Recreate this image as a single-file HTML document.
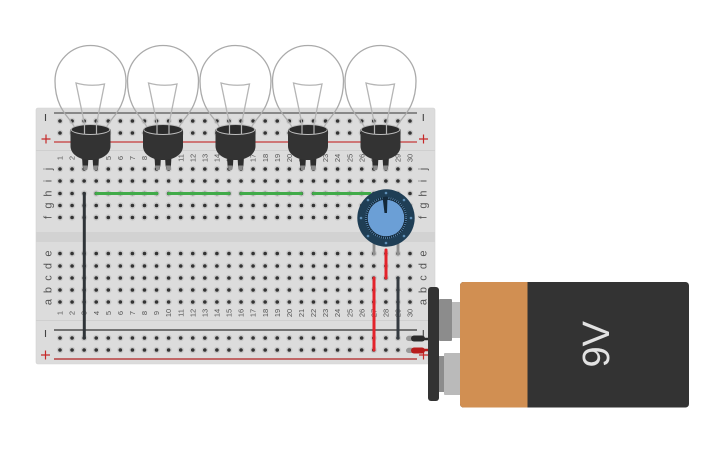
<!DOCTYPE html>
<html><head><meta charset="utf-8"><style>
html,body{margin:0;padding:0;background:#fff;width:725px;height:453px;overflow:hidden}
svg{display:block}
.n{font:7.5px "Liberation Sans",sans-serif;fill:#555;text-anchor:middle}
.l{font:11px "Liberation Sans",sans-serif;fill:#555;text-anchor:middle}
</style></head><body>
<svg width="725" height="453" viewBox="0 0 725 453" xmlns="http://www.w3.org/2000/svg">
<defs>
<g id="hole"><circle r="3.2" fill="#c9c9c9"/><circle r="1.8" fill="#333"/></g>
<g id="row">
<use href="#hole" x="60"/><use href="#hole" x="72.07"/><use href="#hole" x="84.14"/><use href="#hole" x="96.21"/><use href="#hole" x="108.28"/><use href="#hole" x="120.34"/><use href="#hole" x="132.41"/><use href="#hole" x="144.48"/><use href="#hole" x="156.55"/><use href="#hole" x="168.62"/><use href="#hole" x="180.69"/><use href="#hole" x="192.76"/><use href="#hole" x="204.83"/><use href="#hole" x="216.9"/><use href="#hole" x="228.97"/><use href="#hole" x="241.03"/><use href="#hole" x="253.1"/><use href="#hole" x="265.17"/><use href="#hole" x="277.24"/><use href="#hole" x="289.31"/><use href="#hole" x="301.38"/><use href="#hole" x="313.45"/><use href="#hole" x="325.52"/><use href="#hole" x="337.59"/><use href="#hole" x="349.66"/><use href="#hole" x="361.72"/><use href="#hole" x="373.79"/><use href="#hole" x="385.86"/><use href="#hole" x="397.93"/><use href="#hole" x="410"/>
</g>
<g id="bulb">
<path d="M-18.5 42 C-22 36 -35.5 26 -35.5 0 A35.2 35.2 0 0 1 35.5 0 C35.5 26 22 36 18.5 42" transform="translate(0,81)" fill="none" stroke="#aaa" stroke-width="1.3"/>
<path d="M-6 124 L-14.500 83 Q0 87 14 84 L6 124 M-6 124 V135 M6 124 V135" fill="none" stroke="#b5b5b5" stroke-width="1.3"/>
<path d="M-8.500 156 L-8 165 L-7 170 H-3.500 L-2.500 165 L-2 156 Z M8.500 156 L8 165 L7 170 H3.500 L2.500 165 L2 156 Z" fill="#2e2e2e"/>
<path d="M-7.500 165.500 L-7 170 H-3.500 L-3 165.500 Z M7.500 165.500 L7 170 H3.500 L3 165.500 Z" fill="#8a8a8a"/>
<path d="M-20 129 V146 C-20 155 -10 160 0 160 C10 160 20 155 20 146 V129 Z" fill="#333"/>
<ellipse cx="0" cy="129.500" rx="19.300" ry="5" fill="#2b2b2b" stroke="#bdbdbd" stroke-width="1"/>
<path d="M-6 125 V134.300 M6 125 V134.300 M-18.500 123 L-16 127 M18.500 123 L16 127" stroke="#b5b5b5" stroke-width="1.200" fill="none"/>
</g>
</defs>

<!-- breadboard -->
<rect x="36" y="108" width="399" height="256" rx="2" fill="#dcdcdc" stroke="#d2d2d2" stroke-width="0.6"/>
<rect x="36" y="232" width="399" height="10" fill="#d2d2d2"/>
<path d="M36 150.500H435M36 320.500H435" stroke="#cfcfcf" stroke-width="1"/>
<path d="M54 113H417" stroke="#555" stroke-width="1.300"/>
<path d="M54 142H417" stroke="#c63a3a" stroke-width="1.300"/>
<path d="M54 330H417" stroke="#333" stroke-width="1.300"/>
<path d="M54 359H417" stroke="#b02020" stroke-width="1.300"/>

<use href="#row" y="121"/><use href="#row" y="133"/>
<use href="#row" y="169"/><use href="#row" y="181"/><use href="#row" y="193.500"/><use href="#row" y="205.500"/><use href="#row" y="217.500"/>
<use href="#row" y="253.500"/><use href="#row" y="266"/><use href="#row" y="278"/><use href="#row" y="290"/><use href="#row" y="302"/>
<use href="#row" y="338"/><use href="#row" y="350"/>

<!-- rail signs -->
<path d="M45.500 114V121M423.300 114V121M45.500 330V337M423.300 330V337" stroke="#444" stroke-width="1.100"/>
<path d="M41.500 139H50.500M46 134.500V143.500M419 139H428M423.500 134.500V143.500M41 355H50M45.500 350.500V359.500M419 355H428M423.500 350.500V359.500" stroke="#c62828" stroke-width="1.200"/>

<!-- column numbers -->
<text class="n" transform="translate(62.6,158) rotate(-90)">1</text><text class="n" transform="translate(74.7,158) rotate(-90)">2</text><text class="n" transform="translate(86.7,158) rotate(-90)">3</text><text class="n" transform="translate(98.8,158) rotate(-90)">4</text><text class="n" transform="translate(110.9,158) rotate(-90)">5</text><text class="n" transform="translate(122.9,158) rotate(-90)">6</text><text class="n" transform="translate(135,158) rotate(-90)">7</text><text class="n" transform="translate(147.1,158) rotate(-90)">8</text><text class="n" transform="translate(159.1,158) rotate(-90)">9</text><text class="n" transform="translate(171.2,158) rotate(-90)">10</text><text class="n" transform="translate(183.3,158) rotate(-90)">11</text><text class="n" transform="translate(195.4,158) rotate(-90)">12</text><text class="n" transform="translate(207.4,158) rotate(-90)">13</text><text class="n" transform="translate(219.5,158) rotate(-90)">14</text><text class="n" transform="translate(231.6,158) rotate(-90)">15</text><text class="n" transform="translate(243.6,158) rotate(-90)">16</text><text class="n" transform="translate(255.7,158) rotate(-90)">17</text><text class="n" transform="translate(267.8,158) rotate(-90)">18</text><text class="n" transform="translate(279.8,158) rotate(-90)">19</text><text class="n" transform="translate(291.9,158) rotate(-90)">20</text><text class="n" transform="translate(304,158) rotate(-90)">21</text><text class="n" transform="translate(316,158) rotate(-90)">22</text><text class="n" transform="translate(328.1,158) rotate(-90)">23</text><text class="n" transform="translate(340.2,158) rotate(-90)">24</text><text class="n" transform="translate(352.3,158) rotate(-90)">25</text><text class="n" transform="translate(364.3,158) rotate(-90)">26</text><text class="n" transform="translate(376.4,158) rotate(-90)">27</text><text class="n" transform="translate(388.5,158) rotate(-90)">28</text><text class="n" transform="translate(400.5,158) rotate(-90)">29</text><text class="n" transform="translate(412.6,158) rotate(-90)">30</text>
<text class="n" transform="translate(62.6,313) rotate(-90)">1</text><text class="n" transform="translate(74.7,313) rotate(-90)">2</text><text class="n" transform="translate(86.7,313) rotate(-90)">3</text><text class="n" transform="translate(98.8,313) rotate(-90)">4</text><text class="n" transform="translate(110.9,313) rotate(-90)">5</text><text class="n" transform="translate(122.9,313) rotate(-90)">6</text><text class="n" transform="translate(135,313) rotate(-90)">7</text><text class="n" transform="translate(147.1,313) rotate(-90)">8</text><text class="n" transform="translate(159.1,313) rotate(-90)">9</text><text class="n" transform="translate(171.2,313) rotate(-90)">10</text><text class="n" transform="translate(183.3,313) rotate(-90)">11</text><text class="n" transform="translate(195.4,313) rotate(-90)">12</text><text class="n" transform="translate(207.4,313) rotate(-90)">13</text><text class="n" transform="translate(219.5,313) rotate(-90)">14</text><text class="n" transform="translate(231.6,313) rotate(-90)">15</text><text class="n" transform="translate(243.6,313) rotate(-90)">16</text><text class="n" transform="translate(255.7,313) rotate(-90)">17</text><text class="n" transform="translate(267.8,313) rotate(-90)">18</text><text class="n" transform="translate(279.8,313) rotate(-90)">19</text><text class="n" transform="translate(291.9,313) rotate(-90)">20</text><text class="n" transform="translate(304,313) rotate(-90)">21</text><text class="n" transform="translate(316,313) rotate(-90)">22</text><text class="n" transform="translate(328.1,313) rotate(-90)">23</text><text class="n" transform="translate(340.2,313) rotate(-90)">24</text><text class="n" transform="translate(352.3,313) rotate(-90)">25</text><text class="n" transform="translate(364.3,313) rotate(-90)">26</text><text class="n" transform="translate(376.4,313) rotate(-90)">27</text><text class="n" transform="translate(388.5,313) rotate(-90)">28</text><text class="n" transform="translate(400.5,313) rotate(-90)">29</text><text class="n" transform="translate(412.6,313) rotate(-90)">30</text>
<!-- letters -->
<text class="l" transform="translate(51.500,169) rotate(-90)">j</text><text class="l" transform="translate(51.500,181) rotate(-90)">i</text><text class="l" transform="translate(51.500,193.500) rotate(-90)">h</text><text class="l" transform="translate(51.500,205.500) rotate(-90)">g</text><text class="l" transform="translate(51.500,217.500) rotate(-90)">f</text>
<text class="l" transform="translate(51.500,253.500) rotate(-90)">e</text><text class="l" transform="translate(51.500,266) rotate(-90)">d</text><text class="l" transform="translate(51.500,278) rotate(-90)">c</text><text class="l" transform="translate(51.500,290) rotate(-90)">b</text><text class="l" transform="translate(51.500,302) rotate(-90)">a</text>
<text class="l" transform="translate(426.500,169) rotate(-90)">j</text><text class="l" transform="translate(426.500,181) rotate(-90)">i</text><text class="l" transform="translate(426.500,193.500) rotate(-90)">h</text><text class="l" transform="translate(426.500,205.500) rotate(-90)">g</text><text class="l" transform="translate(426.500,217.500) rotate(-90)">f</text>
<text class="l" transform="translate(426.500,253.500) rotate(-90)">e</text><text class="l" transform="translate(426.500,266) rotate(-90)">d</text><text class="l" transform="translate(426.500,278) rotate(-90)">c</text><text class="l" transform="translate(426.500,290) rotate(-90)">b</text><text class="l" transform="translate(426.500,302) rotate(-90)">a</text>

<!-- green wires -->
<path d="M96.200 193.500H157M168.600 193.500H229M241 193.500H301.400M313.400 193.500H370" stroke="#41ab49" stroke-width="3" stroke-linecap="round"/>

<!-- black / red wires -->
<path d="M84.300 193.500V338" stroke="#2f3438" stroke-width="3" stroke-linecap="round"/>
<path d="M398 278V338" stroke="#343a40" stroke-width="3" stroke-linecap="round"/>
<path d="M374 278V350" stroke="#e3232b" stroke-width="3" stroke-linecap="round"/>
<path d="M386 250V278" stroke="#e3232b" stroke-width="3" stroke-linecap="round"/>

<!-- potentiometer -->
<path d="M374 244V254M398 244V254" stroke="#8f8f8f" stroke-width="2.800" stroke-linecap="round"/>
<circle cx="386" cy="218" r="28.700" fill="#1f3e55"/>
<circle cx="386" cy="218" r="21" fill="#14293a"/>
<circle cx="386" cy="218" r="20" fill="none" stroke="#5f8fb8" stroke-width="2" stroke-dasharray="0.8 1.300"/>
<circle cx="386" cy="218" r="18.300" fill="#6b9fd6"/>
<g fill="#5d8db5"><circle cx="386" cy="193" r="1.300"/><circle cx="404" cy="200" r="1.300"/><circle cx="411" cy="218" r="1.300"/><circle cx="404" cy="236" r="1.300"/><circle cx="386" cy="243" r="1.300"/><circle cx="368" cy="236" r="1.300"/><circle cx="361" cy="218" r="1.300"/><circle cx="368" cy="200" r="1.300"/></g>
<path d="M382.500 197L387.500 196.500L387 213H384.500Z" fill="#14293a"/>

<!-- bulbs -->
<use href="#bulb" x="90.500"/><use href="#bulb" x="163"/><use href="#bulb" x="235.500"/><use href="#bulb" x="308"/><use href="#bulb" x="380.500"/>

<!-- battery leads -->
<path d="M408.500 338.500H414M408.500 350.500H414" stroke="#9a9a9a" stroke-width="5" stroke-linecap="round"/>
<path d="M414 338.500H422" stroke="#2b2b2b" stroke-width="6" stroke-linecap="round"/>
<path d="M420 339H429" stroke="#2b2b2b" stroke-width="2.500"/>
<path d="M414 350.500H422" stroke="#b81c1c" stroke-width="6" stroke-linecap="round"/>
<path d="M420 350H429" stroke="#b81c1c" stroke-width="2.500"/>

<!-- battery -->
<rect x="439" y="299" width="13" height="42" rx="1" fill="#8c8c8c"/>
<rect x="452" y="302" width="9" height="36" fill="#bababa"/>
<rect x="439" y="356" width="5" height="36" fill="#8c8c8c"/>
<rect x="444" y="353" width="17" height="42" rx="1" fill="#bababa"/>
<rect x="428" y="287" width="11" height="114" rx="3" fill="#333"/>
<rect x="460" y="282" width="229" height="125.500" rx="3.500" fill="#333"/>
<path d="M463.500 282H527.500V407.500H463.500A3.500 3.500 0 0 1 460 404V285.500A3.500 3.500 0 0 1 463.500 282Z" fill="#d18f52"/>
<text transform="translate(609,367.500) rotate(-90)" font-family="Liberation Sans, sans-serif" font-size="38" fill="#e2e2e2">9V</text>
</svg>
</body></html>
